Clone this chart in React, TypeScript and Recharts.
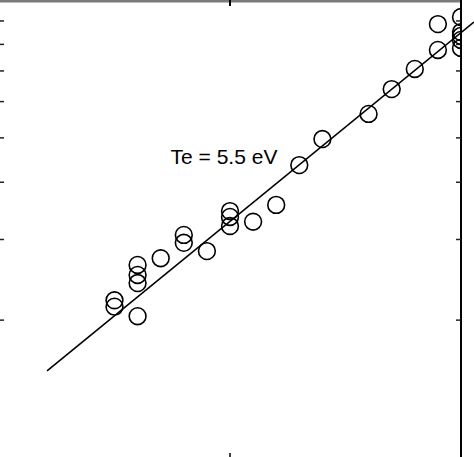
import { ScatterChart, Scatter, XAxis, YAxis, ReferenceLine, ReferenceDot } from "recharts";

// probe voltage (arb. units) and current (log axis, 1..10)
const voltage = [5, 5, 6, 6, 6, 6, 7, 8, 8, 9, 10, 10, 10, 11, 12, 13, 14, 16, 17, 18, 19, 19, 20, 20, 20, 20, 20];
const current = [
  2.21, 2.14, 2.64, 2.51, 2.41, 2.04, 2.73, 3.07, 2.95, 2.83, 3.46, 3.36, 3.21, 3.28, 3.57, 4.36, 4.97, 5.64,
  6.39, 7.07, 8.86, 7.78, 9.18, 8.51, 8.35, 8.18, 7.86,
];

// fitted exponential, end points
const fitStart = { x: 2.08, y: 1.55 };
const fitEnd = { x: 20.56, y: 8.95 };
const fitLabel = "Te = 5.5 eV";

const xTicks = [10];
const yTicks = [2, 3, 4, 5, 6, 7, 8, 9];

const points = voltage.map((v, i) => ({ v, i: current[i] }));

const Ring = (props: any) => {
  const { cx, cy } = props;
  return <circle cx={cx} cy={cy} r={8.4} fill="none" stroke="#000" strokeWidth={1.6} />;
};

const Nothing = () => <g />;

const blank = () => "";

export default function App() {
  return (
    <div style={{ position: "absolute", left: 0, top: 0, width: 474, height: 457, overflow: "hidden", background: "#fff" }}>
      <div style={{ position: "absolute", left: -1, top: 0 }}>
        <ScatterChart width={476} height={462} margin={{ top: 0, right: 14, bottom: 4, left: 0 }}>
          <XAxis
            xAxisId="b"
            dataKey="v"
            type="number"
            orientation="bottom"
            mirror
            height={1}
            domain={[0, 20]}
            allowDataOverflow
            ticks={xTicks}
            tickSize={5}
            tickFormatter={blank}
            axisLine={false}
            tickLine={{ stroke: "#000", strokeWidth: 1.5 }}
          />
          <XAxis
            xAxisId="t"
            dataKey="v"
            type="number"
            orientation="top"
            mirror
            height={1}
            domain={[0, 20]}
            allowDataOverflow
            ticks={xTicks}
            tickSize={6}
            tickFormatter={blank}
            axisLine={{ stroke: "#7a7a7a", strokeWidth: 5 }}
            tickLine={{ stroke: "#000", strokeWidth: 2 }}
          />
          <YAxis
            yAxisId="l"
            dataKey="i"
            type="number"
            scale="log"
            orientation="left"
            mirror
            width={1}
            domain={[1, 10]}
            allowDataOverflow
            ticks={yTicks}
            tickSize={5}
            tickFormatter={blank}
            axisLine={{ stroke: "#000", strokeWidth: 1 }}
            tickLine={{ stroke: "#222", strokeWidth: 1.5 }}
          />
          <YAxis
            yAxisId="r"
            dataKey="i"
            type="number"
            scale="log"
            orientation="right"
            mirror
            width={1}
            domain={[1, 10]}
            allowDataOverflow
            ticks={yTicks}
            tickSize={5}
            tickFormatter={blank}
            axisLine={{ stroke: "#000", strokeWidth: 2 }}
            tickLine={{ stroke: "#222", strokeWidth: 1.5 }}
          />
          <Scatter xAxisId="t" yAxisId="r" data={points} shape={Nothing} isAnimationActive={false} />
          <ReferenceLine
            xAxisId="b"
            yAxisId="l"
            segment={[fitStart, fitEnd]}
            ifOverflow="visible"
            stroke="#000"
            strokeWidth={1.6}
          />
          <Scatter xAxisId="b" yAxisId="l" data={points} shape={Ring} isAnimationActive={false} />
          <ReferenceDot
            xAxisId="b"
            yAxisId="l"
            x={9.74}
            y={4.55}
            r={0}
            ifOverflow="visible"
            label={{
              value: fitLabel,
              position: "center",
              fill: "#000",
              fontSize: 21,
              fontFamily: "'Liberation Sans', Arial, sans-serif",
            }}
          />
        </ScatterChart>
      </div>
    </div>
  );
}
